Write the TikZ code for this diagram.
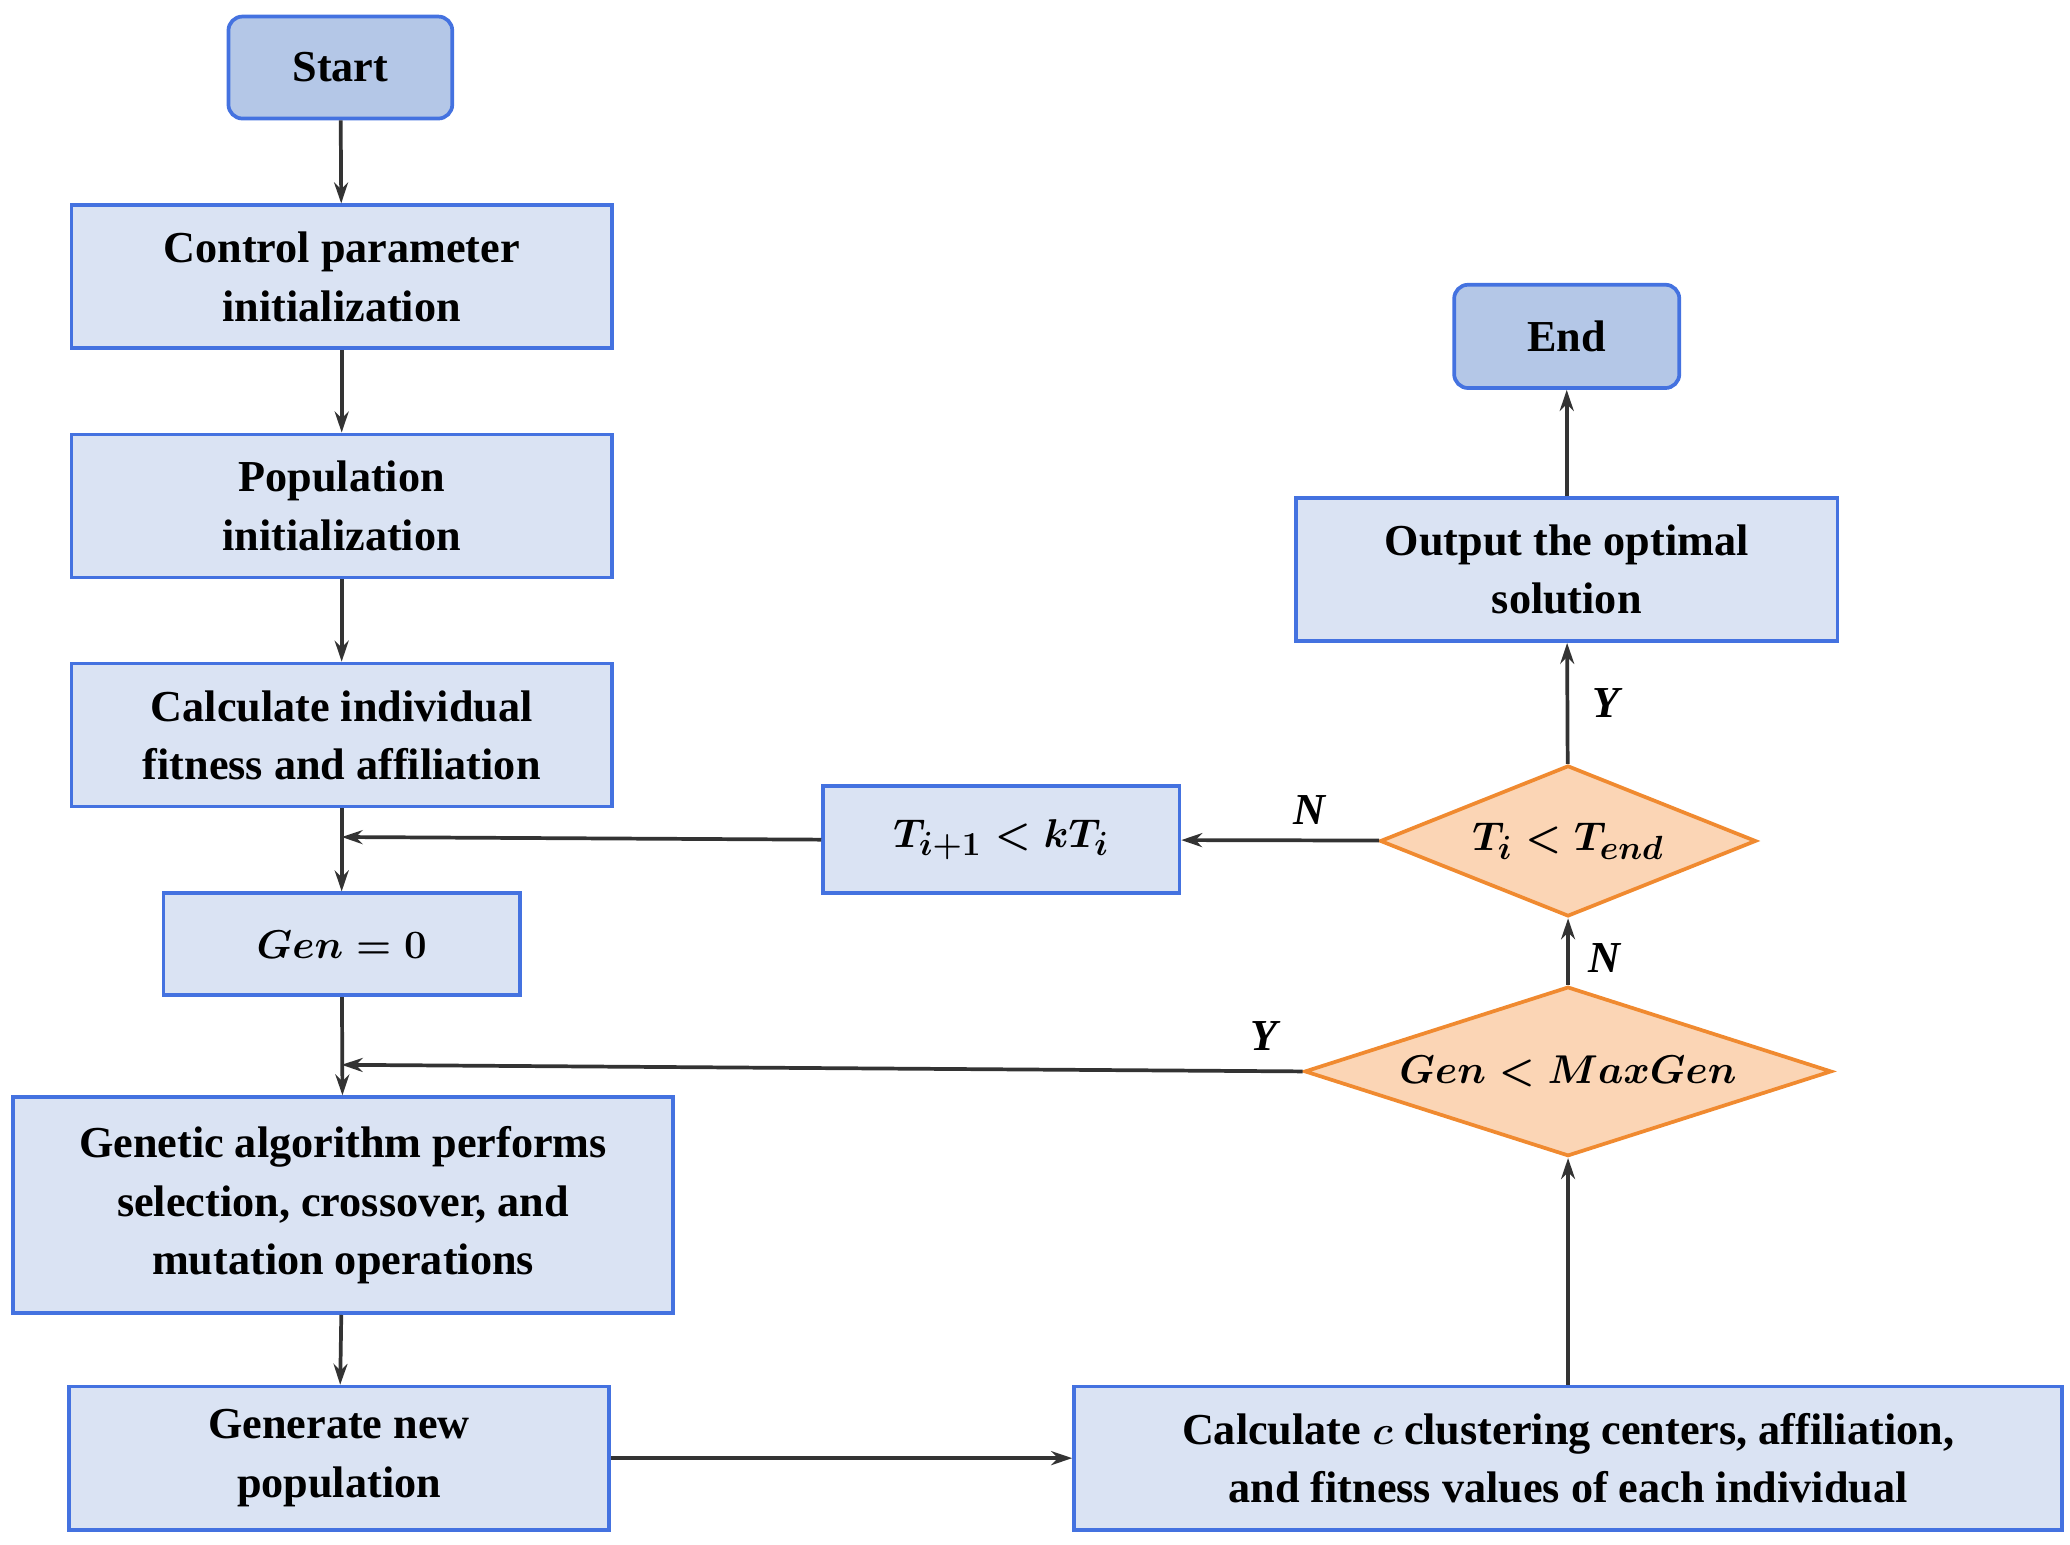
\documentclass[tikz,border=0pt]{standalone}
\usepackage{fontspec}
\setmainfont{Liberation Serif}
\usetikzlibrary{shapes.geometric,arrows.meta}
\definecolor{bfill}{HTML}{DAE3F3}
\definecolor{sfill}{HTML}{B4C7E7}
\definecolor{bdr}{HTML}{4472E0}
\definecolor{ofill}{HTML}{FBD5B5}
\definecolor{obdr}{HTML}{F08A30}
\definecolor{ln}{HTML}{333333}
\begin{document}
\begin{tikzpicture}[x=0.02cm,y=-0.02cm,
  every node/.style={font=\fontsize{19}{25}\selectfont\bfseries\boldmath,align=center,inner sep=0pt},
  box/.style={draw=bdr,line width=1.6pt,fill=bfill},
  term/.style={box,fill=sfill,rounded corners=6pt},
  dia/.style={diamond,draw=obdr,line width=1.6pt,fill=ofill,aspect=3.1},
  ar/.style={draw=ln,line width=1.6pt,-{Stealth[length=9pt,width=6pt]}},
  lab/.style={font=\fontsize{19}{23}\selectfont\bfseries\itshape}]
\useasboundingbox (0,0) rectangle (1563,1166);
\node[term,minimum width=169*0.02cm,minimum height=77*0.02cm] (start) at (257,51) {Start};
\node[box,minimum width=408*0.02cm,minimum height=108*0.02cm] (ctrl) at (258,209) {Control parameter\\initialization};
\node[box,minimum width=408*0.02cm,minimum height=108*0.02cm] (pop) at (258,382) {Population\\initialization};
\node[box,minimum width=408*0.02cm,minimum height=108*0.02cm] (calc) at (258,555) {Calculate individual\\fitness and affiliation};
\node[box,minimum width=269*0.02cm,minimum height=77*0.02cm] (gen0) at (258,713) {$Gen=0$};
\node[box,minimum width=498*0.02cm,minimum height=163*0.02cm] (ga) at (259,910) {Genetic algorithm performs\\selection, crossover, and\\mutation operations};
\node[box,minimum width=408*0.02cm,minimum height=108*0.02cm] (newp) at (256,1101) {Generate new\\population};
\node[box,minimum width=746*0.02cm,minimum height=108*0.02cm] (cc) at (1184,1101) {Calculate $c$ clustering centers, affiliation,\\and fitness values of each individual};
\node[dia,minimum width=398*0.02cm,minimum height=128*0.02cm] (mg) at (1184,809) {$Gen<MaxGen$};
\node[dia,minimum width=284*0.02cm,minimum height=114*0.02cm] (te) at (1184,635) {$T_i<T_{end}$};
\node[box,minimum width=269*0.02cm,minimum height=81*0.02cm] (tk) at (756,634) {$T_{i+1}<kT_i$};
\node[box,minimum width=409*0.02cm,minimum height=108*0.02cm] (out) at (1183,430) {Output the optimal\\solution};
\node[term,minimum width=170*0.02cm,minimum height=78*0.02cm] (end) at (1183,254) {End};
\coordinate (j1) at (258,632);
\coordinate (j2) at (258,804);
\draw[ar] (start) -- (ctrl);
\draw[ar] (ctrl) -- (pop);
\draw[ar] (pop) -- (calc);
\draw[ar] (calc) -- (gen0);
\draw[ar] (gen0) -- (ga);
\draw[ar] (ga) -- (newp);
\draw[ar] (newp) -- (cc);
\draw[ar] (cc) -- (mg);
\draw[ar] (mg) -- node[lab,right=8pt,pos=0.4]{N} (te);
\draw[ar] (te) -- node[lab,above=6pt,pos=0.35]{N} (tk);
\draw[ar] (te) -- node[lab,right=10pt]{Y} (out);
\draw[ar] (out) -- (end);
\draw[ar] (tk.west) -- (j1);
\draw[ar] (mg.west) -- node[lab,above=8pt,pos=0.04]{Y} (j2);
\end{tikzpicture}
\end{document}
